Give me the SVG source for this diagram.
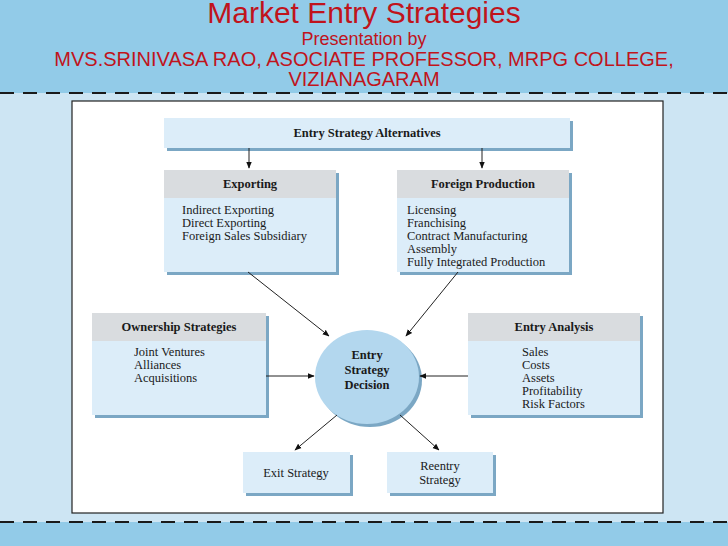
<svg xmlns="http://www.w3.org/2000/svg" width="728" height="546" viewBox="0 0 728 546">
<style>
.t{font-family:"Liberation Sans",Arial,sans-serif;fill:#c0141c;text-anchor:middle}
.s{font-family:"Liberation Serif","Times New Roman",serif;font-size:12.5px;fill:#1a1a1a}
.b{font-weight:bold;text-anchor:middle}
.box{fill:#dcedf9}
.hd{fill:#d9dcdf}
.sh{fill:#7ba7c4}
.dash{stroke:#1a1a1a;stroke-width:2;stroke-dasharray:14,9}
.c{stroke:#222;stroke-width:1;fill:none;marker-end:url(#a)}
</style>
<defs><marker id="a" viewBox="0 0 10 10" refX="9" refY="5" markerWidth="7" markerHeight="7" orient="auto"><path d="M0,1 L10,5 L0,9z" fill="#111"/></marker></defs>
<rect width="728" height="546" fill="#cde5f3"/>
<rect width="728" height="93" fill="#92cbe8"/>
<rect y="522" width="728" height="24" fill="#92cbe8"/>
<line class="dash" x1="0" y1="93" x2="728" y2="93"/>
<line class="dash" x1="0" y1="522" x2="728" y2="522"/>
<text class="t" x="364" y="23" font-size="30">Market Entry Strategies</text>
<text class="t" x="364" y="45" font-size="18">Presentation by</text>
<text class="t" x="364" y="66" font-size="20">MVS.SRINIVASA RAO, ASOCIATE PROFESSOR, MRPG COLLEGE,</text>
<text class="t" x="364" y="86" font-size="20">VIZIANAGARAM</text>
<rect x="72" y="101" width="591" height="412" fill="#fff" stroke="#222" stroke-width="1.2"/>
<g id="alternatives"><rect class="sh" x="167" y="121" width="406" height="30"/><rect class="box" x="164" y="118" width="406" height="30" fill="#c6e2f5"/><text class="s b" x="367" y="137">Entry Strategy Alternatives</text></g>
<g id="exporting"><rect class="sh" x="167" y="173" width="172" height="102"/><rect class="box" x="164" y="170" width="172" height="102"/><rect class="hd" x="164" y="170" width="172" height="28"/><text class="s b" x="250" y="188">Exporting</text>
<text class="s" x="182" y="214">Indirect Exporting</text><text class="s" x="182" y="227">Direct Exporting</text><text class="s" x="182" y="240">Foreign Sales Subsidiary</text></g>
<g id="foreign"><rect class="sh" x="400" y="173" width="172" height="102"/><rect class="box" x="397" y="170" width="172" height="102"/><rect class="hd" x="397" y="170" width="172" height="28"/><text class="s b" x="483" y="188">Foreign Production</text>
<text class="s" x="407" y="214">Licensing</text><text class="s" x="407" y="227">Franchising</text><text class="s" x="407" y="240">Contract Manufacturing</text><text class="s" x="407" y="253">Assembly</text><text class="s" x="407" y="266">Fully Integrated Production</text></g>
<g id="ownership"><rect class="sh" x="95" y="316" width="174" height="102"/><rect class="box" x="92" y="313" width="174" height="102"/><rect class="hd" x="92" y="313" width="174" height="28"/><text class="s b" x="179" y="331">Ownership Strategies</text>
<text class="s" x="134" y="356">Joint Ventures</text><text class="s" x="134" y="369">Alliances</text><text class="s" x="134" y="382">Acquisitions</text></g>
<g id="analysis"><rect class="sh" x="471" y="316" width="172" height="102"/><rect class="box" x="468" y="313" width="172" height="102"/><rect class="hd" x="468" y="313" width="172" height="28"/><text class="s b" x="554" y="331">Entry Analysis</text>
<text class="s" x="522" y="356">Sales</text><text class="s" x="522" y="369">Costs</text><text class="s" x="522" y="382">Assets</text><text class="s" x="522" y="395">Profitability</text><text class="s" x="522" y="408">Risk Factors</text></g>
<g id="decision"><ellipse cx="370" cy="380" rx="52" ry="47" fill="#7ba7c4"/><ellipse cx="367" cy="377" rx="52" ry="47" fill="#b3d7ee"/>
<text class="s b" x="367" y="359">Entry</text><text class="s b" x="367" y="374">Strategy</text><text class="s b" x="367" y="389">Decision</text></g>
<g id="exit"><rect class="sh" x="246" y="455" width="107" height="41"/><rect class="box" x="243" y="452" width="107" height="41"/><text class="s" x="296" y="477" text-anchor="middle">Exit Strategy</text></g>
<g id="reentry"><rect class="sh" x="390" y="455" width="106" height="41"/><rect class="box" x="387" y="452" width="106" height="41"/><text class="s" x="440" y="470" text-anchor="middle">Reentry</text><text class="s" x="440" y="484" text-anchor="middle">Strategy</text></g>
<g id="connectors">
<path class="c" d="M249,148 V168"/><path class="c" d="M482,148 V168"/>
<path class="c" d="M248,272 L329,336"/><path class="c" d="M458,272 L406,336"/>
<path class="c" d="M266,376 H314"/><path class="c" d="M468,376 H420"/>
<path class="c" d="M337,415 L295,450"/><path class="c" d="M400,415 L439,450"/>
</g>
</svg>
